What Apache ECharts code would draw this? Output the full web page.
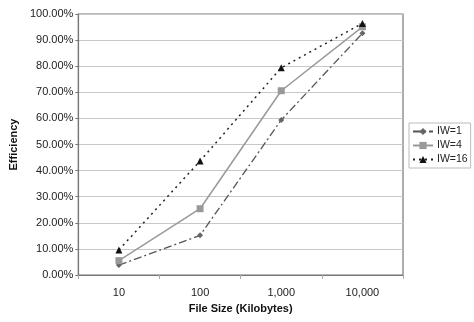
<!DOCTYPE html>
<html><head><meta charset="utf-8">
<script src="https://cdn.jsdelivr.net/npm/echarts@6/dist/echarts.min.js"></script>
<style>html,body{margin:0;padding:0;background:#fff}#c{width:474px;height:322px}</style>
</head><body><div id="c"></div>
<script>
const categories = ['10', '100', '1,000', '10,000'];
const iw1 = [3.8, 15.2, 59.4, 92.6];
const iw4 = [5.5, 25.4, 70.6, 95.1];
const iw16 = [9.6, 43.7, 79.4, 96.4];
const yTicks = [0, 10, 20, 30, 40, 50, 60, 70, 80, 90, 100];

const chart = echarts.init(document.getElementById('c'));
const font = 'Liberation Sans, Arial, sans-serif';
chart.setOption({
  animation: false,
  grid: { left: 74, right: 71, top: 14, bottom: 47, show: true, borderColor: '#777', borderWidth: 1.2 },
  legend: {
    orient: 'vertical', left: 409, top: 123, itemGap: 3, itemWidth: 20, itemHeight: 9,
    backgroundColor: '#fff', borderColor: '#bbb', borderWidth: 1, padding: [3, 3, 3, 3],
    textStyle: { fontFamily: font, fontSize: 10.5, color: '#222', padding: [0, 0, 0, -1] },
    data: ['IW=1', 'IW=4', 'IW=16']
  },
  xAxis: {
    type: 'category', data: categories, boundaryGap: true,
    name: 'File Size (Kilobytes)', nameLocation: 'middle', nameGap: 28,
    nameTextStyle: { fontFamily: font, fontSize: 11, fontWeight: 'bold', color: '#111' },
    axisLine: { lineStyle: { color: '#777', width: 1.2 } },
    axisTick: { show: true, length: 4, lineStyle: { color: '#aaa' } },
    axisLabel: { fontFamily: font, fontSize: 11, color: '#222', margin: 12 }
  },
  yAxis: {
    type: 'value', min: 0, max: 100, interval: 10,
    name: 'Efficiency', nameLocation: 'middle', nameGap: 57, nameRotate: 90,
    nameTextStyle: { fontFamily: font, fontSize: 11, fontWeight: 'bold', color: '#111' },
    axisLine: { show: true, lineStyle: { color: '#777', width: 1.2 } },
    axisTick: { show: true, length: 3, lineStyle: { color: '#777' } },
    axisLabel: { fontFamily: font, fontSize: 11, color: '#222', margin: 5,
      formatter: v => yTicks.includes(v) ? v.toFixed(2) + '%' : '' },
    splitLine: { lineStyle: { color: '#c8c8c8', width: 1 } }
  },
  series: [
    { name: 'IW=1', type: 'line', data: iw1, symbol: 'diamond', symbolSize: 6,
      itemStyle: { color: '#666' }, lineStyle: { color: '#555', width: 1.3, type: [8, 3, 2, 3] } },
    { name: 'IW=4', type: 'line', data: iw4, symbol: 'rect', symbolSize: 7,
      itemStyle: { color: '#999' }, lineStyle: { color: '#999', width: 1.5, type: 'solid' } },
    { name: 'IW=16', type: 'line', data: iw16, symbol: 'triangle', symbolSize: 7,
      itemStyle: { color: '#111' }, lineStyle: { color: '#222', width: 1.5, type: [2, 4] } }
  ]
});
</script></body></html>
